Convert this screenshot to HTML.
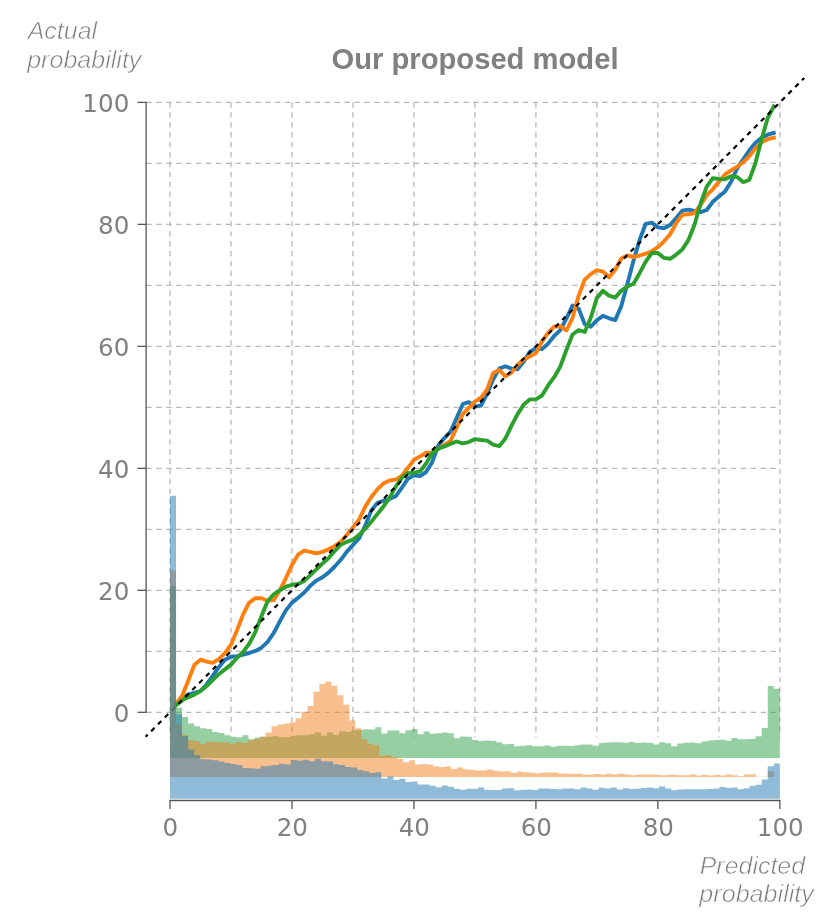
<!DOCTYPE html>
<html><head><meta charset="utf-8"><title>Our proposed model</title>
<style>
html,body{margin:0;padding:0;background:#fff;}
body{width:830px;height:921px;overflow:hidden;position:relative;}
svg{position:absolute;left:0;top:0;display:block;}
.lab{font-family:"Liberation Sans",sans-serif;font-style:italic;font-size:23px;fill:#7d7d7d;stroke:#fff;stroke-width:0.55px;}
.title{font-family:"Liberation Sans",sans-serif;font-weight:bold;font-size:29.2px;fill:#808080;}
</style></head><body>
<svg width="830" height="921" viewBox="0 0 830 921">
<rect width="830" height="921" fill="#fff"/>
<g stroke="#b8b8b8" stroke-width="1.3" stroke-dasharray="5.3 4.607" fill="none"><line x1="146.4" y1="712.30" x2="779.85" y2="712.30"/><line x1="146.4" y1="651.31" x2="779.85" y2="651.31"/><line x1="146.4" y1="590.32" x2="779.85" y2="590.32"/><line x1="146.4" y1="529.33" x2="779.85" y2="529.33"/><line x1="146.4" y1="468.34" x2="779.85" y2="468.34"/><line x1="146.4" y1="407.35" x2="779.85" y2="407.35"/><line x1="146.4" y1="346.36" x2="779.85" y2="346.36"/><line x1="146.4" y1="285.37" x2="779.85" y2="285.37"/><line x1="146.4" y1="224.38" x2="779.85" y2="224.38"/><line x1="146.4" y1="163.39" x2="779.85" y2="163.39"/><line x1="146.4" y1="102.40" x2="779.85" y2="102.40"/><line x1="170.00" y1="102.40" x2="170.00" y2="737.5"/><line x1="230.99" y1="102.40" x2="230.99" y2="737.5"/><line x1="291.97" y1="102.40" x2="291.97" y2="737.5"/><line x1="352.96" y1="102.40" x2="352.96" y2="737.5"/><line x1="413.94" y1="102.40" x2="413.94" y2="737.5"/><line x1="474.93" y1="102.40" x2="474.93" y2="737.5"/><line x1="535.91" y1="102.40" x2="535.91" y2="737.5"/><line x1="596.89" y1="102.40" x2="596.89" y2="737.5"/><line x1="657.88" y1="102.40" x2="657.88" y2="737.5"/><line x1="718.87" y1="102.40" x2="718.87" y2="737.5"/><line x1="779.85" y1="102.40" x2="779.85" y2="737.5"/></g>
<g fill="none" stroke-width="3.9" stroke-linejoin="round" stroke-linecap="square"><path d="M176.1 704.7 L182.2 698.9 L188.3 694.3 L194.4 692.8 L200.5 691.0 L206.6 684.5 L212.7 676.0 L218.8 667.2 L224.9 659.8 L231.0 656.7 L237.1 656.1 L243.2 654.7 L249.3 653.0 L255.4 650.9 L261.5 647.7 L267.6 641.9 L273.7 633.0 L279.8 621.4 L285.9 610.4 L292.0 602.6 L298.1 597.9 L304.2 592.5 L310.3 585.7 L316.4 580.6 L322.5 577.2 L328.6 572.6 L334.7 566.5 L340.8 559.8 L346.9 551.6 L353.0 544.9 L359.1 538.5 L365.2 525.7 L371.3 510.4 L377.3 503.1 L383.4 500.7 L389.5 499.0 L395.6 496.3 L401.7 488.0 L407.8 478.8 L413.9 475.4 L420.0 476.0 L426.1 472.0 L432.2 462.2 L438.3 445.5 L444.4 438.1 L450.5 431.7 L456.6 418.0 L462.7 404.2 L468.8 402.2 L474.9 406.6 L481.0 405.5 L487.1 393.9 L493.2 379.3 L499.3 368.6 L505.4 366.2 L511.5 368.6 L517.6 369.2 L523.7 361.6 L529.8 351.8 L535.9 348.4 L542.0 349.1 L548.1 343.6 L554.2 336.0 L560.3 330.2 L566.4 318.6 L572.5 305.5 L578.6 308.5 L584.7 324.1 L590.8 326.8 L596.9 320.1 L603.0 315.9 L609.1 318.3 L615.2 320.1 L621.3 306.1 L627.4 283.8 L633.5 260.7 L639.6 239.9 L645.7 223.8 L651.8 222.6 L657.9 227.4 L664.0 228.3 L670.1 225.0 L676.2 218.0 L682.3 210.7 L688.4 209.7 L694.5 211.0 L700.6 212.2 L706.7 210.0 L712.8 201.8 L718.9 196.6 L725.0 191.4 L731.1 181.7 L737.2 168.3 L743.3 159.1 L749.4 150.3 L755.5 142.7 L761.6 137.8 L767.7 134.7 L773.8 132.9" stroke="#1f77b4"/><path d="M176.1 703.8 L182.2 695.8 L188.3 680.6 L194.4 664.7 L200.5 659.7 L206.6 661.6 L212.7 662.9 L218.8 659.2 L224.9 653.1 L231.0 644.7 L237.1 630.0 L243.2 614.1 L249.3 602.5 L255.4 598.2 L261.5 598.2 L267.6 600.7 L273.7 600.1 L279.8 590.3 L285.9 578.1 L292.0 564.7 L298.1 554.6 L304.2 550.7 L310.3 551.9 L316.4 553.4 L322.5 551.9 L328.6 549.2 L334.7 546.1 L340.8 541.5 L346.9 534.8 L353.0 527.5 L359.1 519.3 L365.2 506.8 L371.3 497.0 L377.3 489.4 L383.4 483.6 L389.5 480.5 L395.6 479.6 L401.7 476.0 L407.8 468.0 L413.9 459.8 L420.0 456.4 L426.1 452.8 L432.2 452.4 L438.3 448.8 L444.4 444.9 L450.5 440.9 L456.6 427.8 L462.7 414.1 L468.8 407.8 L474.9 401.6 L481.0 397.6 L487.1 389.4 L493.2 372.9 L499.3 370.1 L505.4 376.2 L511.5 372.6 L517.6 364.7 L523.7 359.5 L529.8 356.4 L535.9 353.1 L542.0 341.5 L548.1 332.9 L554.2 326.5 L560.3 326.2 L566.4 330.5 L572.5 318.0 L578.6 295.7 L584.7 279.6 L590.8 274.1 L596.9 270.1 L603.0 271.6 L609.1 277.4 L615.2 269.8 L621.3 258.5 L627.4 255.5 L633.5 257.0 L639.6 255.5 L645.7 253.7 L651.8 251.2 L657.9 247.1 L664.0 241.3 L670.1 234.3 L676.2 223.2 L682.3 214.7 L688.4 214.3 L694.5 213.0 L700.6 204.9 L706.7 195.2 L712.8 189.3 L718.9 181.7 L725.0 174.4 L731.1 170.4 L737.2 166.7 L743.3 162.2 L749.4 156.1 L755.5 148.1 L761.6 142.3 L767.7 139.2 L773.8 137.7" stroke="#ff7f0e"/><path d="M176.1 705.0 L182.2 700.4 L188.3 697.1 L194.4 694.6 L200.5 691.1 L206.6 686.1 L212.7 680.0 L218.8 674.2 L224.9 669.4 L231.0 664.6 L237.1 657.8 L243.2 651.9 L249.3 643.7 L255.4 631.8 L261.5 615.9 L267.6 601.3 L273.7 594.3 L279.8 590.3 L285.9 586.7 L292.0 584.8 L298.1 584.0 L304.2 580.9 L310.3 575.1 L316.4 569.3 L322.5 563.5 L328.6 558.1 L334.7 551.0 L340.8 544.7 L346.9 541.8 L353.0 539.7 L359.1 534.8 L365.2 528.7 L371.3 521.7 L377.3 514.1 L383.4 506.6 L389.5 497.9 L395.6 486.9 L401.7 478.0 L407.8 473.1 L413.9 472.8 L420.0 471.4 L426.1 463.5 L432.2 453.1 L438.3 448.8 L444.4 446.4 L450.5 443.9 L456.6 441.5 L462.7 443.3 L468.8 442.1 L474.9 439.1 L481.0 440.0 L487.1 440.6 L493.2 444.6 L499.3 446.1 L505.4 438.5 L511.5 425.6 L517.6 414.1 L523.7 404.6 L529.8 399.4 L535.9 399.4 L542.0 395.5 L548.1 385.4 L554.2 377.2 L560.3 366.5 L566.4 350.0 L572.5 334.5 L578.6 330.2 L584.7 332.0 L590.8 317.7 L596.9 297.9 L603.0 290.9 L609.1 295.7 L615.2 297.6 L621.3 290.6 L627.4 286.6 L633.5 283.8 L639.6 273.2 L645.7 261.6 L651.8 253.0 L657.9 252.9 L664.0 257.9 L670.1 258.8 L676.2 254.6 L682.3 249.4 L688.4 240.1 L694.5 224.7 L700.6 203.5 L706.7 186.6 L712.8 178.2 L718.9 178.9 L725.0 179.2 L731.1 176.2 L737.2 177.1 L743.3 182.2 L749.4 179.7 L755.5 162.8 L761.6 139.2 L767.7 118.0 L773.8 106.4" stroke="#2ca02c"/></g>
<line x1="145.61" y1="736.70" x2="804.24" y2="78.00" stroke="#000" stroke-width="2.2" stroke-dasharray="4.8 4.89" stroke-dashoffset="1.85"/>
<path d="M170.00 758.10 L170.00 586.05 L176.04 586.05 L176.04 707.60 L182.08 707.60 L182.08 717.06 L188.11 717.06 L188.11 723.58 L194.15 723.58 L194.15 726.21 L200.19 726.21 L200.19 728.16 L206.23 728.16 L206.23 728.95 L212.27 728.95 L212.27 732.00 L218.30 732.00 L218.30 732.91 L224.34 732.91 L224.34 735.35 L230.38 735.35 L230.38 736.82 L236.42 736.82 L236.42 737.18 L242.46 737.18 L242.46 735.23 L248.50 735.23 L248.50 739.14 L254.53 739.14 L254.53 737.43 L260.57 737.43 L260.57 736.82 L266.61 736.82 L266.61 736.82 L272.65 736.82 L272.65 736.15 L278.69 736.15 L278.69 737.24 L284.72 737.24 L284.72 737.24 L290.76 737.24 L290.76 735.66 L296.80 735.66 L296.80 735.23 L302.84 735.23 L302.84 735.23 L308.88 735.23 L308.88 734.26 L314.91 734.26 L314.91 732.24 L320.95 732.24 L320.95 735.66 L326.99 735.66 L326.99 732.55 L333.03 732.55 L333.03 734.99 L339.07 734.99 L339.07 731.21 L345.11 731.21 L345.11 731.82 L351.14 731.82 L351.14 730.23 L357.18 730.23 L357.18 729.87 L363.22 729.87 L363.22 729.32 L369.26 729.32 L369.26 729.44 L375.30 729.44 L375.30 727.18 L381.33 727.18 L381.33 733.40 L387.37 733.40 L387.37 730.48 L393.41 730.48 L393.41 730.48 L399.45 730.48 L399.45 733.16 L405.49 733.16 L405.49 730.23 L411.52 730.23 L411.52 728.89 L417.56 728.89 L417.56 734.20 L423.60 734.20 L423.60 731.57 L429.64 731.57 L429.64 733.83 L435.68 733.83 L435.68 733.16 L441.72 733.16 L441.72 732.49 L447.75 732.49 L447.75 733.16 L453.79 733.16 L453.79 738.16 L459.83 738.16 L459.83 736.45 L465.87 736.45 L465.87 736.70 L471.91 736.70 L471.91 740.05 L477.94 740.05 L477.94 741.09 L483.98 741.09 L483.98 740.42 L490.02 740.42 L490.02 741.09 L496.06 741.09 L496.06 742.19 L502.10 742.19 L502.10 744.14 L508.13 744.14 L508.13 743.89 L514.17 743.89 L514.17 746.15 L520.21 746.15 L520.21 745.72 L526.25 745.72 L526.25 745.23 L532.29 745.23 L532.29 746.15 L538.33 746.15 L538.33 746.15 L544.36 746.15 L544.36 745.48 L550.40 745.48 L550.40 746.82 L556.44 746.82 L556.44 745.72 L562.48 745.72 L562.48 745.72 L568.52 745.72 L568.52 746.03 L574.55 746.03 L574.55 745.36 L580.59 745.36 L580.59 744.38 L586.63 744.38 L586.63 744.38 L592.67 744.38 L592.67 745.72 L598.71 745.72 L598.71 743.10 L604.74 743.10 L604.74 742.43 L610.78 742.43 L610.78 742.19 L616.82 742.19 L616.82 742.19 L622.86 742.19 L622.86 742.79 L628.90 742.79 L628.90 742.00 L634.94 742.00 L634.94 743.10 L640.97 743.10 L640.97 742.43 L647.01 742.43 L647.01 742.79 L653.05 742.79 L653.05 744.38 L659.09 744.38 L659.09 742.19 L665.13 742.19 L665.13 743.34 L671.16 743.34 L671.16 746.15 L677.20 746.15 L677.20 743.40 L683.24 743.40 L683.24 742.67 L689.28 742.67 L689.28 742.55 L695.32 742.55 L695.32 743.22 L701.35 743.22 L701.35 741.39 L707.39 741.39 L707.39 740.42 L713.43 740.42 L713.43 740.05 L719.47 740.05 L719.47 739.75 L725.51 739.75 L725.51 740.72 L731.55 740.72 L731.55 738.04 L737.58 738.04 L737.58 739.26 L743.62 739.26 L743.62 739.26 L749.66 739.26 L749.66 738.95 L755.70 738.95 L755.70 736.33 L761.74 736.33 L761.74 728.10 L767.77 728.10 L767.77 685.95 L773.81 685.95 L773.81 688.64 L779.85 688.64 L779.85 758.10 Z" fill="#2d9f45" fill-opacity="0.5"/>
<path d="M170.00 777.01 L170.00 570.19 L175.98 570.19 L175.98 723.64 L181.96 723.64 L181.96 734.99 L187.93 734.99 L187.93 740.05 L193.91 740.05 L193.91 741.03 L199.89 741.03 L199.89 743.71 L205.87 743.71 L205.87 742.06 L211.84 742.06 L211.84 741.39 L217.82 741.39 L217.82 742.49 L223.80 742.49 L223.80 742.37 L229.78 742.37 L229.78 743.83 L235.76 743.83 L235.76 742.00 L241.73 742.00 L241.73 742.98 L247.71 742.98 L247.71 740.17 L253.69 740.17 L253.69 739.01 L259.67 739.01 L259.67 736.70 L265.64 736.70 L265.64 732.49 L271.62 732.49 L271.62 726.21 L277.60 726.21 L277.60 724.44 L283.58 724.44 L283.58 723.40 L289.55 723.40 L289.55 722.18 L295.53 722.18 L295.53 718.16 L301.51 718.16 L301.51 711.69 L307.49 711.69 L307.49 706.02 L313.47 706.02 L313.47 691.87 L319.44 691.87 L319.44 684.06 L325.42 684.06 L325.42 681.38 L331.40 681.38 L331.40 685.71 L337.38 685.71 L337.38 695.22 L343.35 695.22 L343.35 704.68 L349.33 704.68 L349.33 720.41 L355.31 720.41 L355.31 728.22 L361.29 728.22 L361.29 739.26 L367.27 739.26 L367.27 743.83 L373.24 743.83 L373.24 745.05 L379.22 745.05 L379.22 755.66 L385.20 755.66 L385.20 754.99 L391.18 754.99 L391.18 757.37 L397.15 757.37 L397.15 758.71 L403.13 758.71 L403.13 762.31 L409.11 762.31 L409.11 760.30 L415.09 760.30 L415.09 764.57 L421.06 764.57 L421.06 764.02 L427.04 764.02 L427.04 764.57 L433.02 764.57 L433.02 766.52 L439.00 766.52 L439.00 766.95 L444.98 766.95 L444.98 766.28 L450.95 766.28 L450.95 768.90 L456.93 768.90 L456.93 767.62 L462.91 767.62 L462.91 769.33 L468.89 769.33 L468.89 770.00 L474.86 770.00 L474.86 770.55 L480.84 770.55 L480.84 770.55 L486.82 770.55 L486.82 769.57 L492.80 769.57 L492.80 770.67 L498.78 770.67 L498.78 771.58 L504.75 771.58 L504.75 771.16 L510.73 771.16 L510.73 772.92 L516.71 772.92 L516.71 771.58 L522.69 771.58 L522.69 772.25 L528.66 772.25 L528.66 772.50 L534.64 772.50 L534.64 773.29 L540.62 773.29 L540.62 772.62 L546.60 772.62 L546.60 772.62 L552.58 772.62 L552.58 772.50 L558.55 772.50 L558.55 773.59 L564.53 773.59 L564.53 773.84 L570.51 773.84 L570.51 773.84 L576.49 773.84 L576.49 773.72 L582.46 773.72 L582.46 774.63 L588.44 774.63 L588.44 774.39 L594.42 774.39 L594.42 774.08 L600.40 774.08 L600.40 774.39 L606.37 774.39 L606.37 773.72 L612.35 773.72 L612.35 774.39 L618.33 774.39 L618.33 773.84 L624.31 773.84 L624.31 774.39 L630.29 774.39 L630.29 775.18 L636.26 775.18 L636.26 774.39 L642.24 774.39 L642.24 774.39 L648.22 774.39 L648.22 774.51 L654.20 774.51 L654.20 774.63 L660.17 774.63 L660.17 775.18 L666.15 775.18 L666.15 774.63 L672.13 774.63 L672.13 774.75 L678.11 774.75 L678.11 775.36 L684.09 775.36 L684.09 775.18 L690.06 775.18 L690.06 774.51 L696.04 774.51 L696.04 775.42 L702.02 775.42 L702.02 774.75 L708.00 774.75 L708.00 775.42 L713.97 775.42 L713.97 774.88 L719.95 774.88 L719.95 775.55 L725.93 775.55 L725.93 774.51 L731.91 774.51 L731.91 775.18 L737.89 775.18 L737.89 776.22 L743.86 776.22 L743.86 774.39 L749.84 774.39 L749.84 774.20 L755.82 774.20 L755.82 776.77 L761.80 776.77 L761.80 776.77 L767.77 776.77 L767.77 771.03 L773.75 771.03 L773.75 777.01 Z" fill="#ef7d1d" fill-opacity="0.5"/>
<path d="M170.00 798.66 L170.00 495.79 L176.04 495.79 L176.04 714.13 L182.08 714.13 L182.08 736.03 L188.11 736.03 L188.11 749.56 L194.15 749.56 L194.15 755.30 L200.19 755.30 L200.19 759.20 L206.23 759.20 L206.23 759.45 L212.27 759.45 L212.27 760.36 L218.30 760.36 L218.30 761.58 L224.34 761.58 L224.34 763.10 L230.38 763.10 L230.38 764.02 L236.42 764.02 L236.42 765.12 L242.46 765.12 L242.46 767.92 L248.50 767.92 L248.50 768.17 L254.53 768.17 L254.53 768.72 L260.57 768.72 L260.57 766.15 L266.61 766.15 L266.61 765.79 L272.65 765.79 L272.65 765.12 L278.69 765.12 L278.69 763.78 L284.72 763.78 L284.72 764.45 L290.76 764.45 L290.76 760.12 L296.80 760.12 L296.80 760.79 L302.84 760.79 L302.84 759.87 L308.88 759.87 L308.88 761.21 L314.91 761.21 L314.91 758.77 L320.95 758.77 L320.95 761.21 L326.99 761.21 L326.99 761.46 L333.03 761.46 L333.03 764.14 L339.07 764.14 L339.07 765.12 L345.11 765.12 L345.11 766.89 L351.14 766.89 L351.14 767.56 L357.18 767.56 L357.18 770.00 L363.22 770.00 L363.22 771.16 L369.26 771.16 L369.26 772.92 L375.30 772.92 L375.30 772.25 L381.33 772.25 L381.33 778.60 L387.37 778.60 L387.37 776.46 L393.41 776.46 L393.41 779.94 L399.45 779.94 L399.45 778.84 L405.49 778.84 L405.49 781.89 L411.52 781.89 L411.52 781.52 L417.56 781.52 L417.56 784.45 L423.60 784.45 L423.60 784.45 L429.64 784.45 L429.64 785.73 L435.68 785.73 L435.68 787.20 L441.72 787.20 L441.72 785.49 L447.75 785.49 L447.75 786.83 L453.79 786.83 L453.79 788.78 L459.83 788.78 L459.83 789.76 L465.87 789.76 L465.87 788.78 L471.91 788.78 L471.91 788.78 L477.94 788.78 L477.94 787.50 L483.98 787.50 L483.98 789.76 L490.02 789.76 L490.02 790.12 L496.06 790.12 L496.06 790.12 L502.10 790.12 L502.10 788.42 L508.13 788.42 L508.13 788.17 L514.17 788.17 L514.17 790.37 L520.21 790.37 L520.21 789.76 L526.25 789.76 L526.25 789.45 L532.29 789.45 L532.29 790.12 L538.33 790.12 L538.33 788.42 L544.36 788.42 L544.36 788.42 L550.40 788.42 L550.40 789.09 L556.44 789.09 L556.44 789.21 L562.48 789.21 L562.48 788.42 L568.52 788.42 L568.52 788.54 L574.55 788.54 L574.55 789.21 L580.59 789.21 L580.59 787.50 L586.63 787.50 L586.63 788.42 L592.67 788.42 L592.67 789.76 L598.71 789.76 L598.71 787.87 L604.74 787.87 L604.74 788.42 L610.78 788.42 L610.78 787.62 L616.82 787.62 L616.82 789.45 L622.86 789.45 L622.86 788.29 L628.90 788.29 L628.90 788.96 L634.94 788.96 L634.94 788.78 L640.97 788.78 L640.97 787.99 L647.01 787.99 L647.01 787.62 L653.05 787.62 L653.05 788.17 L659.09 788.17 L659.09 786.59 L665.13 786.59 L665.13 788.42 L671.16 788.42 L671.16 790.37 L677.20 790.37 L677.20 789.51 L683.24 789.51 L683.24 789.27 L689.28 789.27 L689.28 789.33 L695.32 789.33 L695.32 789.33 L701.35 789.33 L701.35 789.33 L707.39 789.33 L707.39 789.09 L713.43 789.09 L713.43 788.42 L719.47 788.42 L719.47 787.07 L725.51 787.07 L725.51 787.99 L731.55 787.99 L731.55 787.38 L737.58 787.38 L737.58 789.33 L743.62 789.33 L743.62 788.29 L749.66 788.29 L749.66 785.73 L755.70 785.73 L755.70 784.70 L761.74 784.70 L761.74 779.39 L767.77 779.39 L767.77 766.15 L773.81 766.15 L773.81 763.47 L779.85 763.47 L779.85 798.66 Z" fill="#1f77b4" fill-opacity="0.5"/>
<g stroke="#555" stroke-width="1.3" fill="none"><line x1="146.1" y1="101.70" x2="146.1" y2="713.00"/><line x1="169.30" y1="800.5" x2="780.55" y2="800.5"/><line x1="137.5" y1="712.30" x2="146.3" y2="712.30"/><line x1="170.00" y1="800.5" x2="170.00" y2="808.9"/><line x1="137.5" y1="590.32" x2="146.3" y2="590.32"/><line x1="291.97" y1="800.5" x2="291.97" y2="808.9"/><line x1="137.5" y1="468.34" x2="146.3" y2="468.34"/><line x1="413.94" y1="800.5" x2="413.94" y2="808.9"/><line x1="137.5" y1="346.36" x2="146.3" y2="346.36"/><line x1="535.91" y1="800.5" x2="535.91" y2="808.9"/><line x1="137.5" y1="224.38" x2="146.3" y2="224.38"/><line x1="657.88" y1="800.5" x2="657.88" y2="808.9"/><line x1="137.5" y1="102.40" x2="146.3" y2="102.40"/><line x1="779.85" y1="800.5" x2="779.85" y2="808.9"/></g>
<g font-family="'DejaVu Sans', 'Liberation Sans', sans-serif" font-size="24.6" fill="#808080"><text x="129.3" y="721.90" text-anchor="end">0</text><text x="170.40" y="836.4" text-anchor="middle">0</text><text x="129.3" y="599.92" text-anchor="end">20</text><text x="292.37" y="836.4" text-anchor="middle">20</text><text x="129.3" y="477.94" text-anchor="end">40</text><text x="414.34" y="836.4" text-anchor="middle">40</text><text x="129.3" y="355.96" text-anchor="end">60</text><text x="536.31" y="836.4" text-anchor="middle">60</text><text x="129.3" y="233.98" text-anchor="end">80</text><text x="658.28" y="836.4" text-anchor="middle">80</text><text x="129.3" y="112.00" text-anchor="end">100</text><text x="780.25" y="836.4" text-anchor="middle">100</text></g>
<text class="title" x="475" y="68.5" text-anchor="middle">Our proposed model</text>
<text class="lab" x="27.7" y="38.5" textLength="69.4" lengthAdjust="spacingAndGlyphs">Actual</text>
<text class="lab" x="27.2" y="67.8" textLength="114.2" lengthAdjust="spacingAndGlyphs">probability</text>
<text class="lab" x="699.7" y="874.2" textLength="105.4" lengthAdjust="spacingAndGlyphs">Predicted</text>
<text class="lab" x="699.3" y="902.3" textLength="114.6" lengthAdjust="spacingAndGlyphs">probability</text>
</svg>
</body></html>
